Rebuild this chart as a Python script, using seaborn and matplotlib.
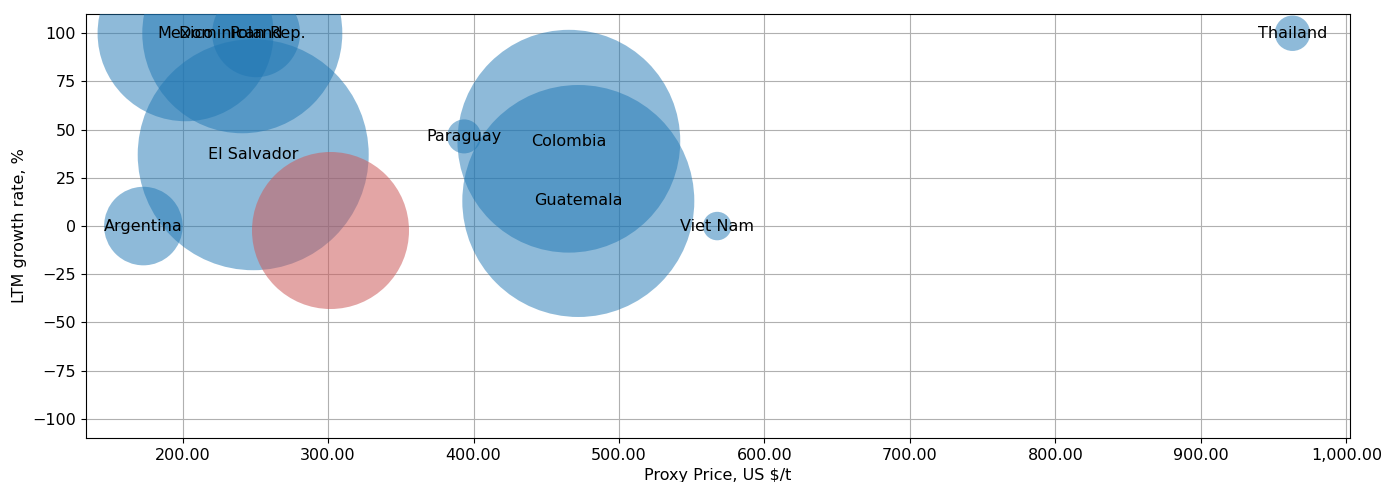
import pandas as pd
import numpy as np
import matplotlib
matplotlib.use("Agg")
import matplotlib.pyplot as plt
import matplotlib.ticker as mticker
import seaborn as sns

# data
countries = ["Argentina", "Mexico", "Dominican Rep.", "Poland", "El Salvador",
             "Paraguay", "Colombia", "Guatemala", "Viet Nam", "Thailand", ""]
price = [173, 202, 241, 250.5, 248.5, 393.5, 465.5, 472, 567.5, 963, 301.5]
growth = [0, 100, 100, 100, 37, 46.5, 44, 13, 0, 100, -2.3]
volume = [3200, 16050, 20740, 4000, 27660, 600, 25730, 27900, 420, 650, 12780]
group = ["other"] * 10 + ["focus"]

df = pd.DataFrame({"country": countries, "price": price, "growth": growth,
                   "volume": volume, "group": group})

plt.rcParams["font.family"] = ["DejaVu Sans"]
plt.rcParams["font.size"] = 11.5

fig, ax = plt.subplots(figsize=(13.86, 4.82), dpi=100)
fig.subplots_adjust(left=0.062, right=0.974, top=0.971, bottom=0.091)

# blue bubbles first, the highlighted one on top
other = df[df.group == "other"]
focus = df[df.group == "focus"]
sns.scatterplot(data=other, x="price", y="growth", color="#1f77b4",
                s=other["volume"].values, alpha=0.5, linewidth=0,
                legend=False, ax=ax, zorder=3)
sns.scatterplot(data=focus, x="price", y="growth", color="indianred",
                s=focus["volume"].values, alpha=0.55, linewidth=0,
                legend=False, ax=ax, zorder=3)

for c, x, y in zip(countries, price, growth):
    if c:
        ax.text(x, y, c, ha="center", va="center", fontsize=11.5, zorder=4)

ax.set_ylim(-110, 110)
ax.set_yticks(np.arange(-100, 101, 25))
ax.xaxis.set_major_formatter(mticker.FuncFormatter(lambda v, p: "{:,.2f}".format(v)))
ax.grid(True, color="#b0b0b0", linewidth=0.8, zorder=0)
ax.set_axisbelow(True)
ax.set_xlabel("Proxy Price, US $/t", fontsize=11.5)
ax.set_ylabel("LTM growth rate, %", fontsize=11.5)
ax.tick_params(labelsize=11.5)

plt.savefig("out.png", dpi=100)
